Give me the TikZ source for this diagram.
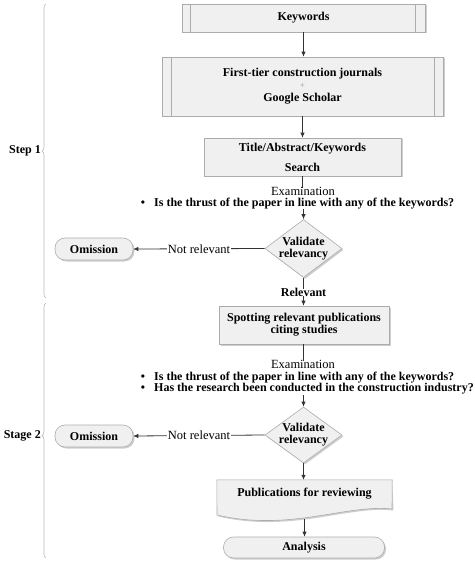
\documentclass[tikz,border=0pt]{standalone}
\usepackage{fontspec}
\setmainfont{Liberation Serif}
\usetikzlibrary{shapes.geometric,shadows,arrows.meta,decorations.pathreplacing}
\begin{document}
\begin{tikzpicture}[x=1pt,y=-1pt,
  every node/.style={font=\fontsize{12}{12}\selectfont},
  box/.style={draw=gray!65, line width=0.6pt, fill=gray!12, inner sep=0pt, align=center,
    drop shadow={shadow xshift=1.5pt, shadow yshift=-1.5pt, fill=gray!55, opacity=0.7}},
  pill/.style={box, rounded corners=10pt},
  dia/.style={box, diamond, inner sep=0pt},
  lbl/.style={inner sep=0pt, align=center},
  bfont/.style={font=\fontsize{12}{12}\selectfont\bfseries},
  rfont/.style={font=\fontsize{12.5}{12.5}\selectfont},
  conn/.style={draw=black!80, line width=0.8pt},
  arr/.style={conn, -{Latex[length=5pt,width=4.5pt]}},
  brc/.style={draw=gray!55, line width=0.6pt, decorate, decoration={brace, amplitude=4pt}}
]
\useasboundingbox (0,0) rectangle (474,561);

% braces
\draw[brc] (46,298) -- (46,4);
\draw[brc, decoration={brace, amplitude=4pt, aspect=0.48}] (46,558) -- (46,303);
\node[lbl, bfont, anchor=east] (s1) at (41,151) {Step 1};
\node[lbl, bfont, anchor=east] (s2) at (41,436) {Stage 2};

% step 1
\node[box, bfont, minimum width=243pt, minimum height=28pt] (kw) at (303.5,18) {Keywords};
\draw[draw=gray!65, line width=0.6pt] ([xshift=9pt]kw.north west) -- ([xshift=9pt]kw.south west)
  ([xshift=-10pt]kw.north east) -- ([xshift=-10pt]kw.south east);

\node[box, minimum width=281pt, minimum height=59pt] (ft) at (302.5,86.5) {};
\draw[draw=gray!65, line width=0.6pt] ([xshift=10pt]ft.north west) -- ([xshift=10pt]ft.south west)
  ([xshift=-9pt]ft.north east) -- ([xshift=-9pt]ft.south east);
\node[lbl, bfont] (ft1) at (302.5,73.5) {First-tier construction journals};
\node[lbl, font=\fontsize{9}{9}\selectfont, text=gray!80] (ftp) at (302.5,85.5) {+};
\node[lbl, bfont] (ft2) at (302.5,98.5) {Google Scholar};

\node[box, bfont, minimum width=197pt, minimum height=38pt] (ta) at (302.5,157)
  {Title/Abstract/Keywords\\[8pt]Search};

\node[lbl, rfont] (ex1) at (303,191) {Examination};
\node[lbl, bfont] (b1) at (143,203.5) {\textbullet};
\node[lbl, bfont, anchor=west] (q1) at (154,203.5) {Is the thrust of the paper in line with any of the keywords?};
\coordinate (c1) at (303.5,209);

\node[dia, minimum width=77pt, minimum height=58pt] (d1) at (303.5,248.5) {};
\node[lbl, bfont] (d1t) at (d1.center) {Validate\\relevancy};
\node[pill, bfont, minimum width=78pt, minimum height=22pt] (om1) at (94,249) {Omission};

\node[lbl, bfont] (rel) at (303.5,292) {Relevant};

% stage 2
\node[box, bfont, minimum width=170pt, minimum height=38pt] (sp) at (304,325)
  {Spotting relevant publications\\citing studies};

\node[lbl, rfont] (ex2) at (303,364.5) {Examination};
\node[lbl, bfont] (b2) at (143,377.5) {\textbullet};
\node[lbl, bfont, anchor=west] (q2) at (154,377.5) {Is the thrust of the paper in line with any of the keywords?};
\node[lbl, bfont] (b3) at (143,389) {\textbullet};
\node[lbl, bfont, anchor=west] (q3) at (154,389) {Has the research been conducted in the construction industry?};
\coordinate (c2) at (303.5,395);

\node[dia, minimum width=77pt, minimum height=56pt] (d2) at (303.5,435) {};
\node[lbl, bfont] (d2t) at (d2.center) {Validate\\relevancy};
\node[pill, bfont, minimum width=78pt, minimum height=22pt] (om2) at (94,436) {Omission};

% document shape
\node[inner sep=0pt, minimum width=175pt, minimum height=34pt] (doc) at (304.5,497) {};
\fill[gray!55, opacity=0.7, xshift=1.5pt, yshift=-1.5pt]
  (doc.north west) -- (doc.north east) -- (392,509) .. controls (345,504) and (290,532) .. (217,515) -- cycle;
\draw[draw=gray!65, line width=0.6pt, fill=gray!12]
  (doc.north west) -- (doc.north east) -- (392,509) .. controls (345,504) and (290,532) .. (217,515) -- cycle;
\node[lbl, bfont] (doct) at (304.5,494) {Publications for reviewing};
\coordinate (c3) at (304.5,519);

\node[pill, bfont, minimum width=161pt, minimum height=21pt] (an) at (304,547.5) {Analysis};

% connectors
\draw[arr] (kw.south) -- (kw.south |- ft.north);
\draw[arr] (ft.south) -- (ft.south |- ta.north);
\draw[conn] (ta.south) -- ([yshift=-1pt]ex1.north -| ta.south);
\draw[arr] (c1) -- (d1.north);
\draw[arr] (d1.west) -- node[lbl, fill=white, inner sep=0.5pt, rfont] {Not relevant} (om1.east);
\draw[conn] (d1.south) -- ([yshift=-1pt]rel.north -| d1.south);
\draw[arr] (rel.south -| d1.south) -- (d1.south |- sp.north);
\draw[conn] (sp.south -| d1.south) -- ([yshift=-1pt]ex2.north -| d1.south);
\draw[arr] (c2) -- (d2.north);
\draw[arr] (d2.west) -- node[lbl, fill=white, inner sep=0.5pt, rfont] {Not relevant} (om2.east);
\draw[arr] (d2.south) -- (d2.south |- doc.north);
\draw[arr] (c3) -- (c3 |- an.north);
\end{tikzpicture}
\end{document}
